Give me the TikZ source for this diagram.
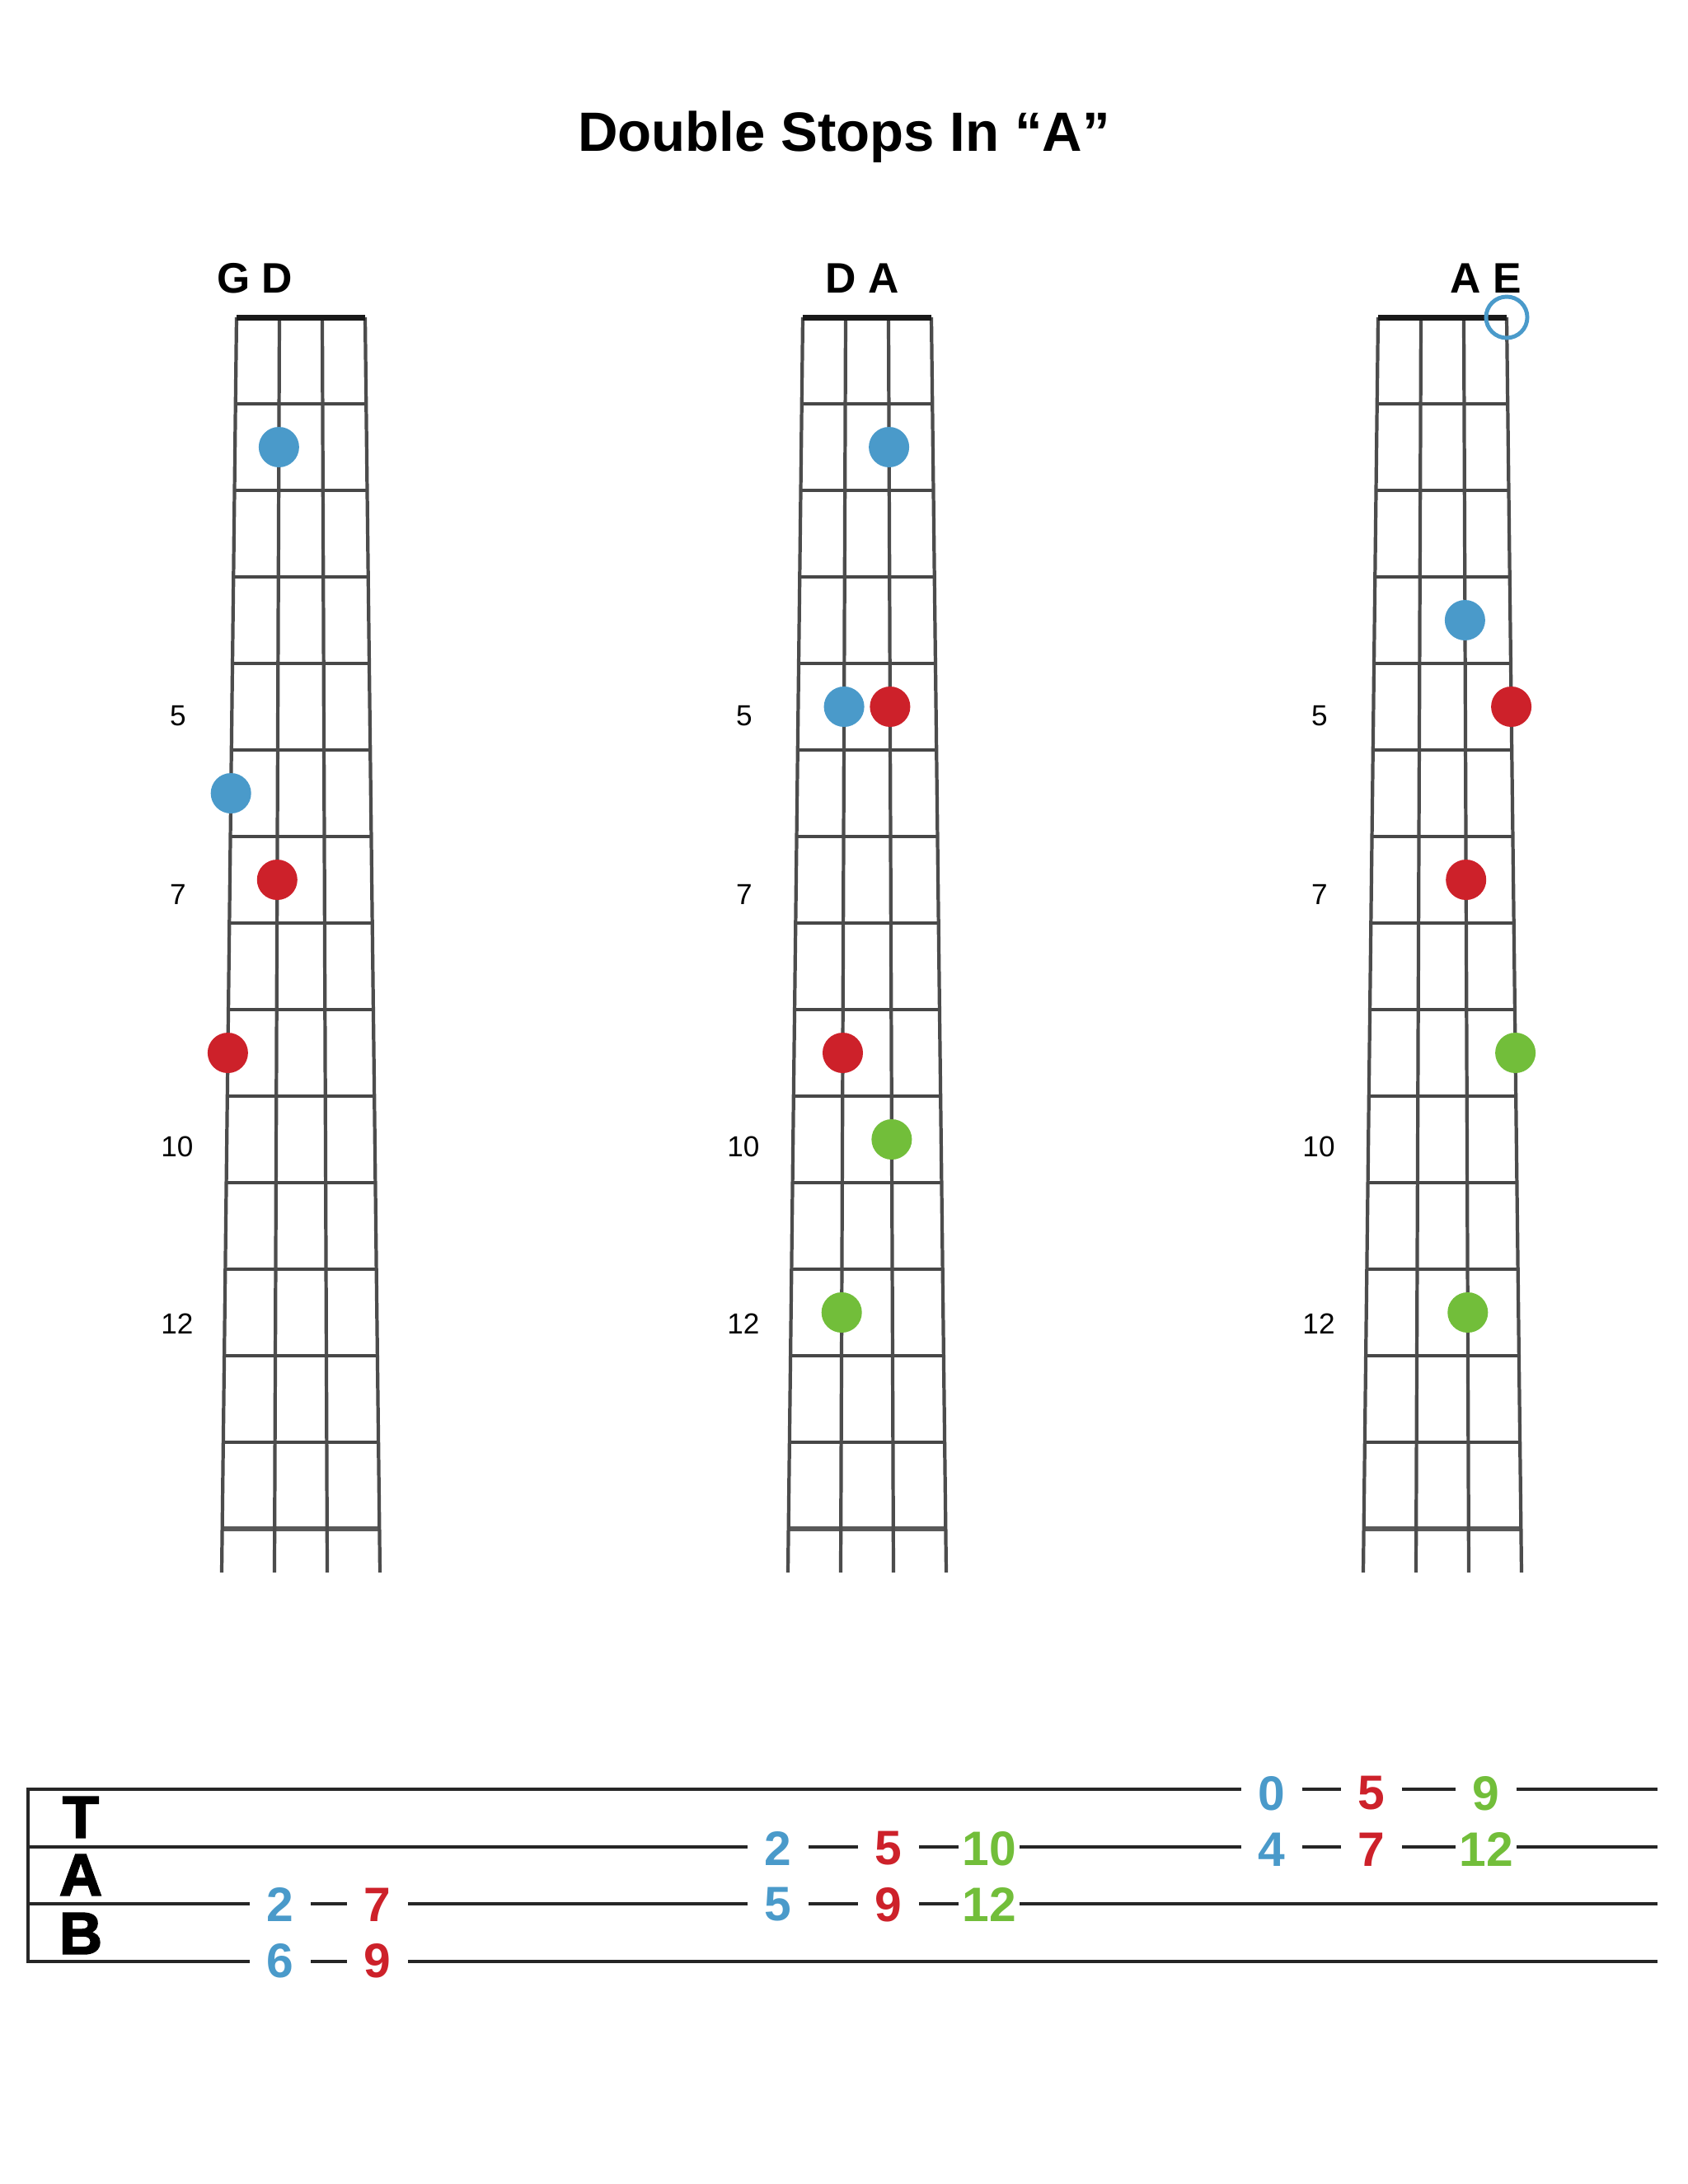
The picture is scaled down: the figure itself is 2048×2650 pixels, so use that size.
\documentclass[tikz,border=0pt]{standalone}
\usepackage{fontspec}
\setmainfont{Liberation Sans}
\newfontfamily\tabfont[BoldFeatures={FakeBold=2.5}]{Liberation Sans}
\usepackage{tikz}
\usetikzlibrary{calc}

\definecolor{dblue}{RGB}{74,154,202}
\definecolor{dred}{RGB}{205,33,42}
\definecolor{dgreen}{RGB}{114,190,58}

\begin{document}
\begin{tikzpicture}[x=0.01cm, y=-0.01cm, fret/.style={line width=1.1pt, black!72}, strng/.style={line width=1.2pt, black!70}, nut/.style={line width=2pt, black!90}, lastfret/.style={line width=1.7pt, black!65}, dot/.style={circle, inner sep=0pt, minimum size=0.49cm}, opendot/.style={circle, draw=dblue, line width=1.4pt, inner sep=0pt, minimum size=0.5cm}, fretnum/.style={font=\fontsize{10}{12}\selectfont, anchor=base}, strname/.style={font=\fontsize{14.7}{17}\selectfont\bfseries, anchor=base}, tabnum/.style={fill=white, inner sep=0pt, minimum width=0.74cm, minimum height=0.5cm, font=\fontsize{16.7}{19}\selectfont\bfseries}, tabline/.style={line width=1.1pt, black!85}, tabletter/.style={font=\tabfont\bfseries\fontsize{20.5}{22}\selectfont, inner sep=0pt}]
			\useasboundingbox (0,0) rectangle (2048,2650);

			\node[font=\fontsize{19.1}{22}\selectfont\bfseries, anchor=base] (ttl) at (1024,183) {Double Stops In “A”};

			% board 1 : G D
			\node (top1) at (365,385) {};
			\node (nutL1) at (287,385) {};
			\node (nutR1) at (443,385) {};
			\node (endL1) at (269,1908) {};
			\node (endR1) at (461,1908) {};
			\foreach \n in {1,...,13}
				\draw[fret] ($(nutL1.center)!{\n*105/1523}!(endL1.center)$) -- ($(nutR1.center)!{\n*105/1523}!(endR1.center)$);
			\draw[lastfret] ($(nutL1.center)!{1470/1523}!(endL1.center)$) -- ($(nutR1.center)!{1470/1523}!(endR1.center)$);
			\foreach \s in {0,1,2,3}
				\draw[strng] ($(nutL1.center)!{\s/3}!(nutR1.center)$) -- ($(endL1.center)!{\s/3}!(endR1.center)$);
			\draw[nut] (nutL1.center) -- (nutR1.center);

			\node[strname] (gd) at ($(top1)+(-56,-30)$) {G D};
			\node[fretnum] (n5a) at ($(top1)+(-149,495)$) {5};
			\node[fretnum] (n7a) at ($(top1)+(-149,712)$) {7};
			\node[fretnum] (n10a) at ($(top1)+(-150,1018)$) {10};
			\node[fretnum] (n12a) at ($(top1)+(-150,1233)$) {12};

			\node[dot, fill=dblue] (b1f2) at ($(top1)+(-26.6,157.5)$) {};
			\node[dot, fill=dblue] (b1f6) at ($(top1)+(-84.8,577.5)$) {};
			\node[dot, fill=dred] (b1f7) at ($(top1)+(-28.7,682.5)$) {};
			\node[dot, fill=dred] (b1f9) at ($(top1)+(-88.6,892.5)$) {};

			% board 2 : D A
			\node (top2) at (1052,385) {};
			\node (nutL2) at (974,385) {};
			\node (nutR2) at (1130,385) {};
			\node (endL2) at (956,1908) {};
			\node (endR2) at (1148,1908) {};
			\foreach \n in {1,...,13}
				\draw[fret] ($(nutL2.center)!{\n*105/1523}!(endL2.center)$) -- ($(nutR2.center)!{\n*105/1523}!(endR2.center)$);
			\draw[lastfret] ($(nutL2.center)!{1470/1523}!(endL2.center)$) -- ($(nutR2.center)!{1470/1523}!(endR2.center)$);
			\foreach \s in {0,1,2,3}
				\draw[strng] ($(nutL2.center)!{\s/3}!(nutR2.center)$) -- ($(endL2.center)!{\s/3}!(endR2.center)$);
			\draw[nut] (nutL2.center) -- (nutR2.center);

			\node[strname] (da) at ($(top2)+(-6,-30)$) {D A};
			\node[fretnum] (n5b) at ($(top2)+(-149,495)$) {5};
			\node[fretnum] (n7b) at ($(top2)+(-149,712)$) {7};
			\node[fretnum] (n10b) at ($(top2)+(-150,1018)$) {10};
			\node[fretnum] (n12b) at ($(top2)+(-150,1233)$) {12};

			\node[dot, fill=dblue] (b2f2) at ($(top2)+(26.6,157.5)$) {};
			\node[dot, fill=dblue] (b2f5) at ($(top2)+(-27.9,472.5)$) {};
			\node[dot, fill=dred] (b2f5r) at ($(top2)+(27.9,472.5)$) {};
			\node[dot, fill=dred] (b2f9) at ($(top2)+(-29.5,892.5)$) {};
			\node[dot, fill=dgreen] (b2f10) at ($(top2)+(29.9,997.5)$) {};
			\node[dot, fill=dgreen] (b2f12) at ($(top2)+(-30.8,1207.5)$) {};

			% board 3 : A E
			\node (top3) at (1750,385) {};
			\node (nutL3) at (1672,385) {};
			\node (nutR3) at (1828,385) {};
			\node (endL3) at (1654,1908) {};
			\node (endR3) at (1846,1908) {};
			\foreach \n in {1,...,13}
				\draw[fret] ($(nutL3.center)!{\n*105/1523}!(endL3.center)$) -- ($(nutR3.center)!{\n*105/1523}!(endR3.center)$);
			\draw[lastfret] ($(nutL3.center)!{1470/1523}!(endL3.center)$) -- ($(nutR3.center)!{1470/1523}!(endR3.center)$);
			\foreach \s in {0,1,2,3}
				\draw[strng] ($(nutL3.center)!{\s/3}!(nutR3.center)$) -- ($(endL3.center)!{\s/3}!(endR3.center)$);
			\draw[nut] (nutL3.center) -- (nutR3.center);

			\node[strname] (ae) at ($(top3)+(53,-30)$) {A E};
			\node[fretnum] (n5c) at ($(top3)+(-149,495)$) {5};
			\node[fretnum] (n7c) at ($(top3)+(-149,712)$) {7};
			\node[fretnum] (n10c) at ($(top3)+(-150,1018)$) {10};
			\node[fretnum] (n12c) at ($(top3)+(-150,1233)$) {12};

			\node[opendot] (b3f0) at ($(top3)+(78,0)$) {};
			\node[dot, fill=dblue] (b3f4) at ($(top3)+(27.4,367.5)$) {};
			\node[dot, fill=dred] (b3f5) at ($(top3)+(83.6,472.5)$) {};
			\node[dot, fill=dred] (b3f7) at ($(top3)+(28.7,682.5)$) {};
			\node[dot, fill=dgreen] (b3f9) at ($(top3)+(88.6,892.5)$) {};
			\node[dot, fill=dgreen] (b3f12) at ($(top3)+(30.8,1207.5)$) {};

			% tab staff
			\node (l1L) at (34,2171) {};
			\node (l1R) at (2011,2171) {};
			\node (l2L) at (34,2241) {};
			\node (l2R) at (2011,2241) {};
			\node (l3L) at (34,2310) {};
			\node (l3R) at (2011,2310) {};
			\node (l4L) at (34,2380) {};
			\node (l4R) at (2011,2380) {};

			\draw[tabline] (l1L.center) -- (l1R.center);
			\draw[tabline] (l2L.center) -- (l2R.center);
			\draw[tabline] (l3L.center) -- (l3R.center);
			\draw[tabline] (l4L.center) -- (l4R.center);
			\draw[tabline, line cap=rect] (l1L.center) -- (l4L.center);

			\node[tabletter] (tT) at (98,2205) {T};
			\node[tabletter] (tA) at (98,2275) {A};
			\node[tabletter] (tB) at (98,2346) {B};

			\node[tabnum, text=dblue] (t1a) at (340,2311) {2};
			\node[tabnum, text=dblue] (t1b) at (340,2379) {6};
			\node[tabnum, text=dred] (t2a) at (458,2311) {7};
			\node[tabnum, text=dred] (t2b) at (458,2379) {9};

			\node[tabnum, text=dblue] (t3a) at (944,2243) {2};
			\node[tabnum, text=dblue] (t3b) at (944,2311) {5};
			\node[tabnum, text=dred] (t4a) at (1078,2243) {5};
			\node[tabnum, text=dred] (t4b) at (1078,2311) {9};
			\node[tabnum, text=dgreen] (t5a) at (1200,2243) {10};
			\node[tabnum, text=dgreen] (t5b) at (1200,2311) {12};

			\node[tabnum, text=dblue] (t6a) at (1543,2176) {0};
			\node[tabnum, text=dblue] (t6b) at (1543,2244) {4};
			\node[tabnum, text=dred] (t7a) at (1664,2176) {5};
			\node[tabnum, text=dred] (t7b) at (1664,2244) {7};
			\node[tabnum, text=dgreen] (t8a) at (1803,2176) {9};
			\node[tabnum, text=dgreen] (t8b) at (1803,2244) {12};

		\end{tikzpicture}
\end{document}
